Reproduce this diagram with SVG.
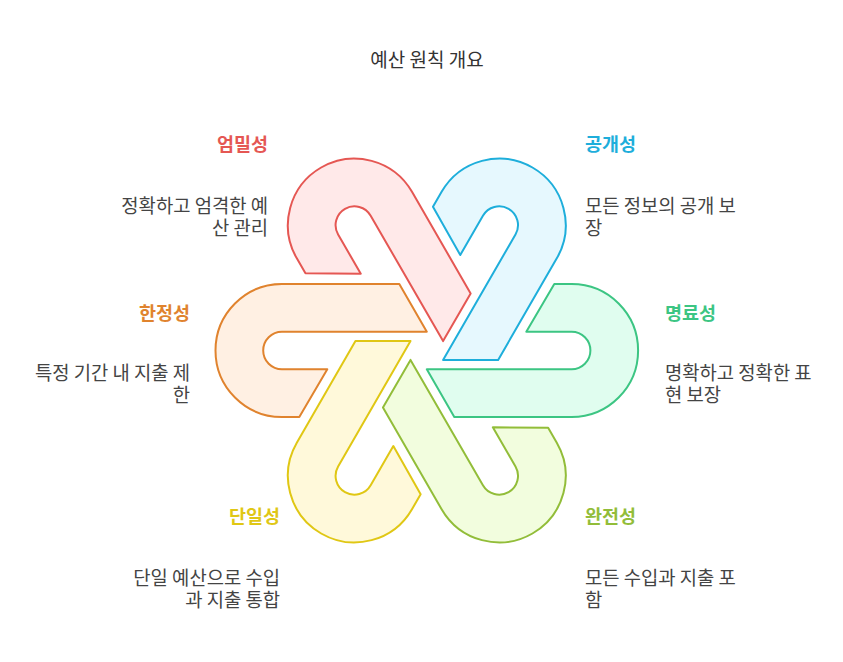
<svg xmlns="http://www.w3.org/2000/svg" width="843" height="662" viewBox="0 0 843 662">
<defs>
<path id="hook" d="M -144.8,-66.5 L -27.5,-66.5 L 0,-18.8 L -144.8,-18.8 A 18.8 18.8 0 0 0 -144.8,18.8 L -99.5,18.8 L -127.5,66.5 L -144.8,66.5 A 66.5 66.5 0 0 1 -144.8,-66.5 Z"/>
</defs>
<style>
text{font-family:"Noto Sans CJK KR","Noto Sans",sans-serif;}
.title{font-size:19px;fill:#333333;}
.lbl{font-size:18.5px;font-weight:bold;}
.desc{font-size:18.8px;fill:#444444;}
.r{text-anchor:end;}
.shape{stroke-width:2;stroke-linejoin:round;}
</style>
<rect width="843" height="662" fill="#ffffff"/>
<text class="title" x="427" y="67" text-anchor="middle">예산 원칙 개요</text>
<g id="orange-node">
<use href="#hook" class="shape" transform="translate(426.8 350.5)" fill="#FFF0E3" stroke="#E0832E"/>
<text class="lbl r" x="190" y="320" fill="#E0832E">한정성</text>
<text class="desc r" x="190" y="380">특정 기간 내 지출 제</text>
<text class="desc r" x="190" y="402">한</text>
</g>
<g id="red-node">
<use href="#hook" class="shape" transform="translate(426.8 350.5) rotate(60)" fill="#FFE9E9" stroke="#E55753"/>
<text class="lbl r" x="268" y="151" fill="#E55753">엄밀성</text>
<text class="desc r" x="268" y="213">정확하고 엄격한 예</text>
<text class="desc r" x="268" y="235">산 관리</text>
</g>
<g id="blue-node">
<use href="#hook" class="shape" transform="translate(426.8 350.5) rotate(120)" fill="#E6F8FE" stroke="#1EAEDB"/>
<text class="lbl" x="585" y="151" fill="#1EAEDB">공개성</text>
<text class="desc" x="585" y="213">모든 정보의 공개 보</text>
<text class="desc" x="585" y="235">장</text>
</g>
<g id="green-node">
<use href="#hook" class="shape" transform="translate(426.8 350.5) rotate(180)" fill="#E0FDEF" stroke="#3CC583"/>
<text class="lbl" x="665" y="320" fill="#3CC583">명료성</text>
<text class="desc" x="665" y="380">명확하고 정확한 표</text>
<text class="desc" x="665" y="402">현 보장</text>
</g>
<g id="lime-node">
<use href="#hook" class="shape" transform="translate(426.8 350.5) rotate(240)" fill="#F2FDDE" stroke="#92BD39"/>
<text class="lbl" x="585" y="523" fill="#92BD39">완전성</text>
<text class="desc" x="585" y="585">모든 수입과 지출 포</text>
<text class="desc" x="585" y="607">함</text>
</g>
<g id="yellow-node">
<use href="#hook" class="shape" transform="translate(426.8 350.5) rotate(300)" fill="#FFF9DA" stroke="#E0C714"/>
<text class="lbl r" x="280" y="523" fill="#E0C714">단일성</text>
<text class="desc r" x="280" y="585">단일 예산으로 수입</text>
<text class="desc r" x="280" y="607">과 지출 통합</text>
</g>
<g id="connectors"></g>
</svg>
